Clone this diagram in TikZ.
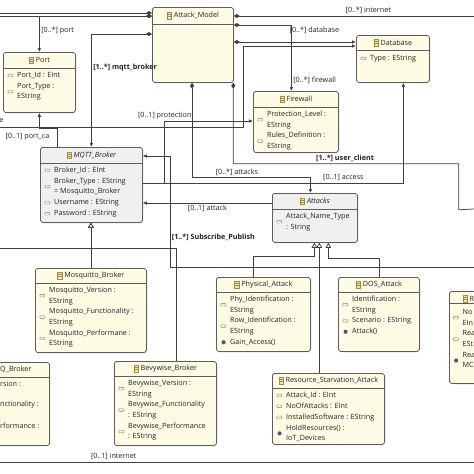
\documentclass[tikz,border=0pt]{standalone}
\usepackage{fontspec}
\setmainfont{Open Sans}
\usetikzlibrary{arrows.meta, positioning, shadows}

\definecolor{boxfill}{HTML}{FFFCE6}
\definecolor{absfill}{HTML}{F0F0F0}
\definecolor{boxline}{HTML}{5E5E5E}
\definecolor{linecol}{HTML}{404040}
\definecolor{txtcol}{HTML}{222222}
\definecolor{iconfill}{HTML}{F2E6AE}
\definecolor{iconline}{HTML}{A08A4A}
\definecolor{opdot}{HTML}{4D5675}

\newcommand{\umlfont}{\fontsize{7.2}{10.5}\selectfont}

\tikzset{
  classbox/.style={draw=boxline, line width=0.75pt, rounded corners=1.8pt,
    fill=boxfill, anchor=north west, inner sep=0pt,
    drop shadow={shadow xshift=0.9pt, shadow yshift=-0.9pt, opacity=0.25}},
  absbox/.style={classbox, fill=absfill},
  divider/.style={draw=boxline, line width=0.6pt},
  clsicon/.style={draw=iconline, fill=iconfill, line width=0.4pt,
    minimum width=4.2pt, minimum height=6.4pt, inner sep=0pt, label distance=2.2pt,
    path picture={\draw[iconline, line width=0.3pt]
      ([yshift=-2pt]path picture bounding box.north west) -- ([yshift=-2pt]path picture bounding box.north east)
      ([yshift=-4pt]path picture bounding box.north west) -- ([yshift=-4pt]path picture bounding box.north east);}},
  ctitle/.style={font=\umlfont, text=txtcol, inner sep=0pt, label={[clsicon]left:}},
  atitle/.style={ctitle, font=\umlfont\itshape},
  member/.style={anchor=north west, align=left, inner sep=0pt, font=\umlfont, text=txtcol},
  attricon/.style={draw=boxline!80, fill=iconfill!50, rounded corners=0.6pt, line width=0.35pt,
    minimum width=5pt, minimum height=2.6pt, inner sep=0pt, label distance=4pt},
  opericon/.style={circle, fill=opdot, minimum size=4.2pt, inner sep=0pt, label distance=4.1pt},
  attr/.style={member, label={[attricon]left:}},
  oper/.style={member, label={[opericon]left:}},
  frag/.style={font=\umlfont, text=txtcol, inner sep=0pt},
  lbl/.style={font=\umlfont, text=txtcol, inner sep=1.5pt},
  blbl/.style={lbl, font=\umlfont\bfseries},
  wire/.style={draw=linecol, line width=0.75pt},
  ref/.style={wire, -{Latex[length=4pt, width=3.6pt]}},
  cref/.style={wire, {Diamond[length=6pt, width=4pt]}-{Latex[length=4pt, width=3.6pt]}},
  cend/.style={wire, {Diamond[length=6pt, width=4pt]}-},
  inherit/.style={wire, -{Triangle[length=5pt, width=5.5pt, fill=white]}},
}

\begin{document}
\begin{tikzpicture}[x=1pt, y=-1pt]

\fill[white] (0,0) rectangle (474,474);
\useasboundingbox (0,0) rectangle (474,474);

% Attack_Model
\node[classbox, minimum width=81pt, minimum height=75pt] (attack_model) at (152,7) {};
\node[ctitle] (attack_model_title) at ([xshift=3.5pt, yshift=-8.5pt]attack_model.north) {Attack\_Model};
\draw[divider] ([yshift=-17pt]attack_model.north west) -- ([yshift=-17pt]attack_model.north east);

% Port
\node[classbox, minimum width=72pt, minimum height=60pt] (port) at (3,52) {};
\node[ctitle] (port_title) at ([xshift=3.5pt, yshift=-8pt]port.north) {Port};
\draw[divider] ([yshift=-16pt]port.north west) -- ([yshift=-16pt]port.north east);
\node[attr] (port_a1) at ([shift={(14pt,-18pt)}]port.north west) {\strut Port\_Id : EInt};
\node[attr] (port_a2) at (port_a1.south west) {\strut Port\_Type :\\\strut EString};

% Database
\node[classbox, minimum width=73pt, minimum height=47pt] (database) at (356,35) {};
\node[ctitle] (database_title) at ([xshift=3.5pt, yshift=-7.5pt]database.north) {Database};
\draw[divider] ([yshift=-15pt]database.north west) -- ([yshift=-15pt]database.north east);
\node[attr] (database_a1) at ([shift={(14pt,-18pt)}]database.north west) {\strut Type : EString};

% Firewall
\node[classbox, minimum width=85pt, minimum height=61pt] (firewall) at (253,91) {};
\node[ctitle] (firewall_title) at ([xshift=3.5pt, yshift=-8pt]firewall.north) {Firewall};
\draw[divider] ([yshift=-16pt]firewall.north west) -- ([yshift=-16pt]firewall.north east);
\node[attr] (firewall_a1) at ([shift={(14pt,-18pt)}]firewall.north west) {\strut Protection\_Level :\\\strut EString};
\node[attr] (firewall_a2) at (firewall_a1.south west) {\strut Rules\_Definition :\\\strut EString};

% MQTT_Broker (abstract)
\node[absbox, minimum width=102pt, minimum height=75pt] (mqtt_broker) at (40,147) {};
\node[atitle] (mqtt_broker_title) at ([xshift=3.5pt, yshift=-8pt]mqtt_broker.north) {MQTT\_Broker};
\draw[divider] ([yshift=-16pt]mqtt_broker.north west) -- ([yshift=-16pt]mqtt_broker.north east);
\node[attr] (mqtt_broker_a1) at ([shift={(14pt,-18pt)}]mqtt_broker.north west) {\strut Broker\_Id : EInt};
\node[attr] (mqtt_broker_a2) at (mqtt_broker_a1.south west) {\strut Broker\_Type : EString\\\strut = Mosquitto\_Broker};
\node[attr] (mqtt_broker_a3) at (mqtt_broker_a2.south west) {\strut Username : EString};
\node[attr] (mqtt_broker_a4) at (mqtt_broker_a3.south west) {\strut Password : EString};

% Attacks (abstract)
\node[absbox, minimum width=85pt, minimum height=49pt] (attacks) at (272,193) {};
\node[atitle] (attacks_title) at ([xshift=3.5pt, yshift=-8pt]attacks.north) {Attacks};
\draw[divider] ([yshift=-16pt]attacks.north west) -- ([yshift=-16pt]attacks.north east);
\node[attr] (attacks_a1) at ([shift={(14pt,-18pt)}]attacks.north west) {\strut Attack\_Name\_Type\\\strut : String};

% Mosquitto_Broker
\node[classbox, minimum width=111pt, minimum height=84pt] (mosquitto) at (35,268) {};
\node[ctitle] (mosquitto_title) at ([xshift=3.5pt, yshift=-7.5pt]mosquitto.north) {Mosquitto\_Broker};
\draw[divider] ([yshift=-15pt]mosquitto.north west) -- ([yshift=-15pt]mosquitto.north east);
\node[attr] (mosquitto_a1) at ([shift={(14pt,-17pt)}]mosquitto.north west) {\strut Mosquitto\_Version :\\\strut EString};
\node[attr] (mosquitto_a2) at (mosquitto_a1.south west) {\strut Mosquitto\_Functionality :\\\strut EString};
\node[attr] (mosquitto_a3) at (mosquitto_a2.south west) {\strut Mosquitto\_Performane :\\\strut EString};

% Bevywise_Broker
\node[classbox, minimum width=102pt, minimum height=84pt] (bevywise) at (114,361) {};
\node[ctitle] (bevywise_title) at ([xshift=3.5pt, yshift=-7.5pt]bevywise.north) {Bevywise\_Broker};
\draw[divider] ([yshift=-15pt]bevywise.north west) -- ([yshift=-15pt]bevywise.north east);
\node[attr] (bevywise_a1) at ([shift={(14pt,-17pt)}]bevywise.north west) {\strut Bevywise\_Version :\\\strut EString};
\node[attr] (bevywise_a2) at (bevywise_a1.south west) {\strut Bevywise\_Functionality\\\strut : EString};
\node[attr] (bevywise_a3) at (bevywise_a2.south west) {\strut Bevywise\_Performance\\\strut : EString};

% broker cut at the left edge
\node[classbox, minimum width=109pt, minimum height=83pt] (q_broker) at (-60,362) {};
\draw[divider] ([yshift=-15pt]q_broker.north west) -- ([yshift=-15pt]q_broker.north east);
\node[frag, anchor=west] (q_broker_title) at ([xshift=60pt, yshift=-7.5pt]q_broker.north west) {Q\_Broker};
\node[frag, anchor=west] (q_broker_a1) at ([xshift=60pt, yshift=-22pt]q_broker.north west) {rsion :};
\node[frag, anchor=west] (q_broker_a2) at ([xshift=60pt, yshift=-43pt]q_broker.north west) {nctionality :};
\node[frag, anchor=west] (q_broker_a3) at ([xshift=60pt, yshift=-64pt]q_broker.north west) {rformance :};

% Physical_Attack
\node[classbox, minimum width=94pt, minimum height=74pt] (physical) at (216,277) {};
\node[ctitle] (physical_title) at ([xshift=3.5pt, yshift=-7.5pt]physical.north) {Physical\_Attack};
\draw[divider] ([yshift=-15pt]physical.north west) -- ([yshift=-15pt]physical.north east);
\node[attr] (physical_a1) at ([shift={(14pt,-17pt)}]physical.north west) {\strut Phy\_Identification :\\\strut EString};
\node[attr] (physical_a2) at (physical_a1.south west) {\strut Row\_Identification :\\\strut EString};
\node[oper] (physical_o1) at (physical_a2.south west) {\strut Gain\_Access()};

% DOS_Attack
\node[classbox, minimum width=81pt, minimum height=74pt] (dos) at (338,277) {};
\node[ctitle] (dos_title) at ([xshift=3.5pt, yshift=-7.5pt]dos.north) {DOS\_Attack};
\draw[divider] ([yshift=-15pt]dos.north west) -- ([yshift=-15pt]dos.north east);
\node[attr] (dos_a1) at ([shift={(14pt,-17pt)}]dos.north west) {\strut Identification :\\\strut EString};
\node[attr] (dos_a2) at (dos_a1.south west) {\strut Scenario : EString};
\node[oper] (dos_o1) at (dos_a2.south west) {\strut Attack()};

% Resource_Starvation_Attack
\node[classbox, minimum width=112pt, minimum height=71pt] (resource) at (272,373) {};
\node[ctitle] (resource_title) at ([xshift=3.5pt, yshift=-7.5pt]resource.north) {Resource\_Starvation\_Attack};
\draw[divider] ([yshift=-15pt]resource.north west) -- ([yshift=-15pt]resource.north east);
\node[attr] (resource_a1) at ([shift={(14pt,-17pt)}]resource.north west) {\strut Attack\_Id : EInt};
\node[attr] (resource_a2) at (resource_a1.south west) {\strut NoOfAttacks : EInt};
\node[attr] (resource_a3) at (resource_a2.south west) {\strut InstalledSoftware : EString};
\node[oper] (resource_o1) at (resource_a3.south west) {\strut HoldResources() :\\\strut IoT\_Devices};

% class cut at the right edge
\node[classbox, minimum width=60pt, minimum height=92pt] (r_box) at (449,291) {};
\node[ctitle, anchor=west] (r_box_title) at ([xshift=20.5pt, yshift=-7.5pt]r_box.north west) {R};
\draw[divider] ([yshift=-12.5pt]r_box.north west) -- ([yshift=-12.5pt]r_box.north east);
\node[attr] (r_box_a1) at ([shift={(13.5pt,-16pt)}]r_box.north west) {\strut No\\\strut EIn};
\node[attr] (r_box_a2) at (r_box_a1.south west) {\strut Rea\\\strut ESt};
\node[oper] (r_box_o1) at (r_box_a2.south west) {\strut Rea\\\strut MC};

% free ends at the picture border
\coordinate (w_top1) at (0,13);
\coordinate (w_top2) at (0,16);
\coordinate (w_mid) at (0,127);
\coordinate (w_gen) at (0,248);
\coordinate (w_bot) at (0,462);
\coordinate (e_net) at (474,16);
\coordinate (e_uc) at (474,209);
\coordinate (e_sp) at (474,267);
\coordinate (e_bot) at (474,462);

% ends on the boxes
\coordinate (am_l1) at ([yshift=-6pt]attack_model.north west);
\coordinate (am_l2) at ([yshift=-9pt]attack_model.north west);
\coordinate (am_l3) at ([yshift=-27pt]attack_model.north west);
\coordinate (am_r1) at ([yshift=-9pt]attack_model.north east);
\coordinate (am_r2) at ([yshift=-18pt]attack_model.north east);
\coordinate (am_r3) at ([yshift=-35pt]attack_model.north east);
\coordinate (am_b1) at ([xshift=40pt]attack_model.south west);
\coordinate (am_b2) at ([xshift=-0.5pt]attack_model.south east);
\coordinate (db_in2) at ([yshift=-11pt]database.north west);
\coordinate (fw_in) at ([yshift=-30pt]firewall.north west);
\coordinate (mq_t1) at ([xshift=17pt]mqtt_broker.north west);
\coordinate (mq_r1) at ([yshift=-9pt]mqtt_broker.north east);
\coordinate (mq_r3) at ([yshift=-36pt]mqtt_broker.north east);
\coordinate (att_l) at ([yshift=-10pt]attacks.north west);
\coordinate (mq_gen) at (mosquitto.north |- mqtt_broker.south);
\coordinate (res_t) at ([xshift=-9pt]resource.north);

% references
\draw[cend] (am_l1) -- (w_top1);
\draw[cend] (am_l2) -- (w_top2);
\draw[cref] (am_l2) -| (port) node[lbl, right, pos=0.71] {[0..*] port};
\draw[cref] (am_l3) -| (mqtt_broker) node[blbl, right, pos=0.65] {[1..*] mqtt\_broker};
\draw[cend] (am_r1) -- (e_net) node[lbl, above, pos=0.56] {[0..*] internet};
\draw[cref] (am_r2) -| ([xshift=-4.5pt]firewall.north) node[lbl, right, pos=0.92] {[0..*] firewall};
\draw[cref] (am_r3) -- (am_r3 -| database.west) node[lbl, above, pos=0.66, yshift=6pt] {[0..*] database};
\draw[ref] (w_mid) -| ([xshift=-113pt]db_in2) -- (db_in2);
\node[lbl, anchor=east] (lbl_e) at ([xshift=5pt, yshift=6.5pt]w_mid) {e};
\draw[ref] (mq_t1) -- ++(0,-19) -| (port);
\node[lbl, anchor=east] (lbl_port_ca) at ([xshift=-6pt, yshift=10pt]mq_t1) {[0..1] port\_ca};
\draw[ref] (mq_r3) -- ++(22,0) |- (fw_in) node[lbl, above, pos=0.5] {[0..1] protection};
\draw[ref] (mq_r3) -| ([xshift=10.5pt]database.south) node[lbl, above, pos=0.385] {[0..1] access};
\draw[cref] (am_b1) -- ++(0,95) -| ([xshift=-4.5pt]attacks.north) node[lbl, above, pos=0.19] {[0..*] attacks};
\draw[cend] (am_b2) -- ++(0,81) -| ++(225.5,46) node[blbl, above, pos=0.248] {[1..*] user\_client} -- (e_uc);
\draw[ref] (att_l) -- (att_l -| mqtt_broker.east) node[lbl, below, pos=0.5] {[0..1] attack};
\draw[ref] (e_sp) -- ++(-304,0) |- (mq_r1) node[blbl, right, pos=0.135] {[1..*] Subscribe\_Publish};
\draw[wire] (w_bot) -- (e_bot) node[lbl, above, pos=0.24] {[0..1] internet};

% inheritance
\draw[inherit] (mosquitto.north) -- (mq_gen);
\draw[inherit] ([xshift=11pt]bevywise.north) -- ++(0,-113) -| (mq_gen);
\draw[inherit] (w_gen) -| (mq_gen);
\draw[inherit] ([xshift=-10pt]physical.north) -- ++(0,-21) -| ([xshift=-0.5pt]attacks.south);
\draw[inherit] (res_t) -- (res_t |- attacks.south);
\draw[inherit] (dos.north) -- ++(0,-19) -| ([xshift=13.5pt]attacks.south);

\end{tikzpicture}
\end{document}
